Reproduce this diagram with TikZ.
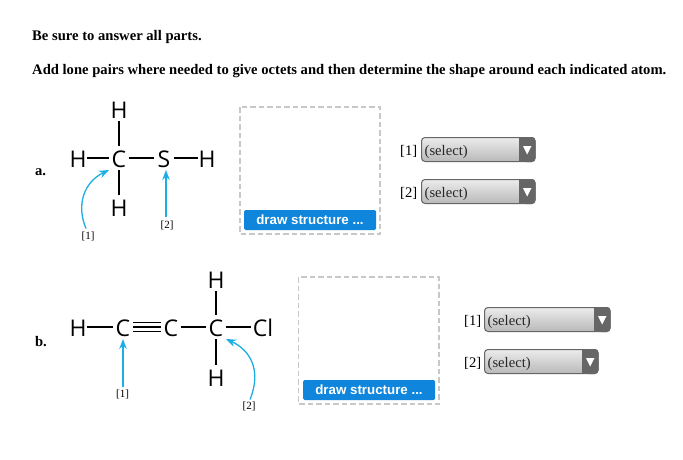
\documentclass[tikz,border=0pt]{standalone}
\usepackage{fontspec}
\setmainfont{Liberation Serif}
\setsansfont{Liberation Sans}
\newfontfamily\chemfont{Open Sans}
\usetikzlibrary{arrows.meta}
\definecolor{arrowblue}{HTML}{1CAEE4}
\definecolor{btnblue}{HTML}{0F86DB}
\definecolor{selgray}{HTML}{666666}
\definecolor{dashgray}{HTML}{C8C8C8}
\tikzset{
  atom/.style={inner sep=0pt,outer sep=0pt,minimum width=20pt,minimum height=24pt,text height=18.4pt,text depth=0pt,font=\chemfont\fontsize{23}{24}\selectfont,text=black},
  hatom/.style={atom,minimum width=18pt},
  clatom/.style={atom,minimum width=24pt},
  bond/.style={line width=1.1pt,black},
  pointer/.style={line width=1.3pt,arrowblue,-{Stealth[length=10pt,width=7.5pt]}},
  callout/.style={inner sep=1pt,outer sep=0pt,font=\fontsize{11}{12}\selectfont},
  partlabel/.style={inner sep=0pt,font=\bfseries\fontsize{14.6}{16}\selectfont},
  heading/.style={anchor=west,inner sep=0pt,font=\bfseries\fontsize{14.62}{16}\selectfont},
  dropnum/.style={anchor=west,inner sep=0pt,font=\fontsize{14.6}{16}\selectfont},
  droptext/.style={anchor=west,inner sep=0pt,font=\fontsize{14.6}{16}\selectfont,text=black!85},
  dropbox/.style={top color=gray!15,bottom color=gray!55,draw=selgray,line width=1pt,rounded corners=3.5pt},
  dashbox/.style={draw=dashgray,line width=1.6pt,dash pattern=on 5.5pt off 3pt},
  drawbtn/.style={fill=btnblue,rounded corners=1.5pt,inner sep=0pt,text=white,font=\sffamily\bfseries\fontsize{13.33}{15}\selectfont},
}
\newcommand{\dropdown}[6]{% x1, y1, split, x2, y2, name
  \shade[dropbox] (#1,#2) rectangle (#4,#5);
  \fill[selgray,rounded corners=3.5pt] (#3+3,#2-0.5) -- (#4+0.5,#2-0.5) -- (#4+0.5,#5+0.5) -- (#3+3,#5+0.5) -- cycle;
  \fill[selgray] (#3,#2-0.5) rectangle (#3+5,#5+0.5);
  \fill[white] (#3+4,#2+8.5) -- (#3+12.5,#2+8.5) -- (#3+8.2,#2+17) -- cycle;
  \node[droptext] (#6) at (#1+3,#2+14) {(select)};
}
\begin{document}
\begin{tikzpicture}[x=1pt,y=-1pt]
\useasboundingbox (0,0) rectangle (683,460);
\fill[white] (0,0) rectangle (683,460);
\node[heading] (t1) at (32,36.5) {Be sure to answer all parts.};
\node[heading] (t2) at (32,71.5) {Add lone pairs where needed to give octets and then determine the shape around each indicated atom.};
\node[partlabel] (pa) at (40.5,172) {a.};
\node[partlabel] (pb) at (41,342) {b.};
% molecule a
\node[hatom] (ah1) at (119,109) {H};
\node[hatom] (ah2) at (78,158) {H};
\node[atom] (ac) at (119,158) {C};
\node[atom] (as) at (164,158) {S};
\node[hatom] (ah3) at (207,158) {H};
\node[hatom] (ah4) at (119,207) {H};
\draw[bond] (ah1) -- (ac);
\draw[bond] (ac) -- (ah4);
\draw[bond] (ah2) -- (ac);
\draw[bond] (ac) -- (as);
\draw[bond] (as) -- (ah3);
\node[callout] (al1) at (88,236) {[1]};
\node[callout] (al2) at (167,225) {[2]};
\draw[pointer] (al1.north) ++(-2,-2) coordinate (as1) (as1) .. controls (76,205) and (84,182) .. (ac.south west);
\draw[pointer] (al2.north -| as.south east) ++(-8,-2) coordinate (as2) (as2) -- (as2 |- as.south);
% molecule b
\node[hatom] (bh1) at (78,327) {H};
\node[atom] (bc1) at (123,327) {C};
\node[atom] (bc2) at (171,327) {C};
\node[atom] (bc3) at (216,327) {C};
\node[clatom] (bcl) at (263,327) {Cl};
\node[hatom] (bh2) at (216,279) {H};
\node[hatom] (bh3) at (216,377) {H};
\draw[bond] (bh1) -- (bc1);
\draw[bond] (bc1) -- (bc2);
\draw[bond] ([yshift=-4.5pt]bc1.east) -- ([yshift=-4.5pt]bc2.west);
\draw[bond] ([yshift=4.5pt]bc1.east) -- ([yshift=4.5pt]bc2.west);
\draw[bond] (bc2) -- (bc3);
\draw[bond] (bc3) -- (bcl);
\draw[bond] (bh2) -- (bc3);
\draw[bond] (bc3) -- (bh3);
\node[callout] (bl1) at (122.5,394) {[1]};
\node[callout] (bl2) at (249,406) {[2]};
\draw[pointer] (bc1.south |- bl1.north) ++(0,-1) coordinate (bs1) (bs1) -- (bc1.south);
\draw[pointer] (bl2.north) ++(1,-1) coordinate (bs2) (bs2) .. controls (262,370) and (250,350) .. (bc3.south east);
% answer boxes
\draw[dashbox] (240,107) rectangle (380,234);
\node[drawbtn,minimum width=132pt,minimum height=20pt] (ba) at (310,220) {draw structure ...};
\draw[dashbox] (298.5,277) rectangle (439,404);
\node[drawbtn,minimum width=132pt,minimum height=20pt] (bb) at (369,390) {draw structure ...};
% selects
\node[dropnum] (n1) at (400,151.5) {[1]};
\node[dropnum] (n2) at (400,193.5) {[2]};
\dropdown{421.5}{137.5}{519}{535}{161.5}{s1}
\dropdown{421.5}{179.5}{519}{535}{203.5}{s2}
\node[dropnum] (n3) at (464,321.5) {[1]};
\node[dropnum] (n4) at (464,363.5) {[2]};
\dropdown{484.5}{307.5}{594}{610}{331.5}{s3}
\dropdown{484.5}{349.5}{582}{598}{373.5}{s4}
\end{tikzpicture}
\end{document}
